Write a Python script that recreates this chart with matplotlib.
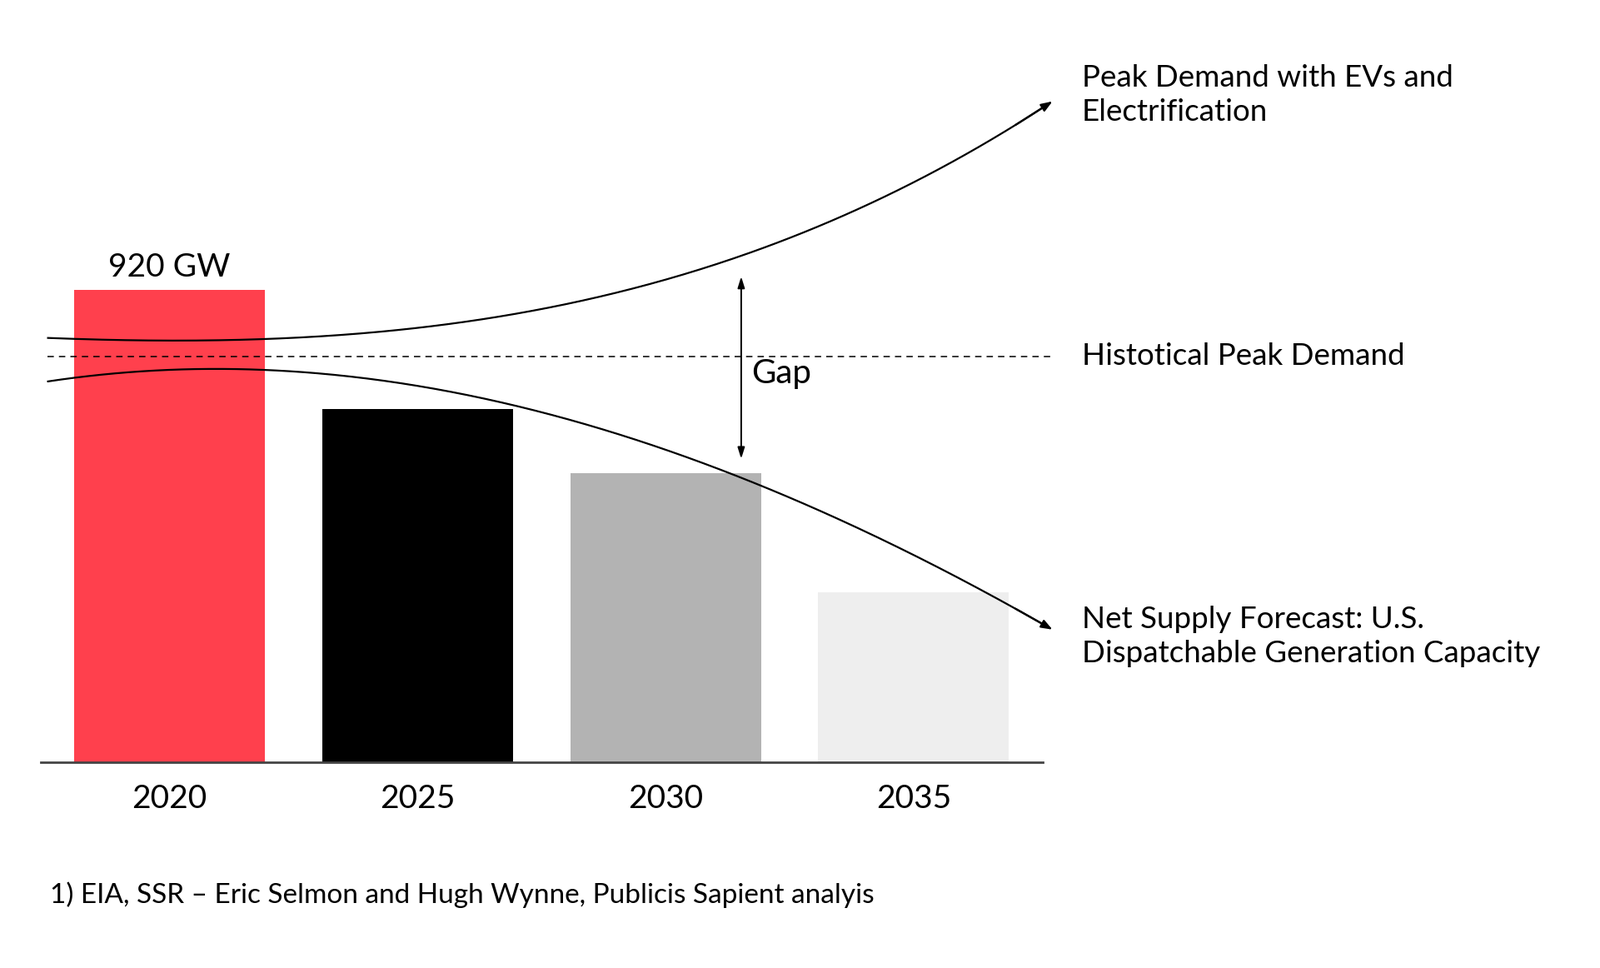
import numpy as np
import matplotlib
matplotlib.use("Agg")
import matplotlib.pyplot as plt

plt.rcParams['font.family'] = ['Lato', 'DejaVu Sans']

# ---- data ----
years = ["2020", "2025", "2030", "2035"]
capacity_gw = [920, 688, 563, 331]
bar_colors = ["#FF404D", "#000000", "#B3B3B3", "#EEEEEE"]
historical_peak_gw = 790

# schematic curves (x in bar-slot units, y in GW)
demand_x = [-0.49, 0.07, 0.38, 0.81, 1.20, 1.67, 1.76, 2.17, 2.31, 2.47, 2.86, 3.20, 3.56]
demand_y = [828, 818, 823, 839, 860, 901, 914, 961, 982, 1014, 1097, 1188, 1284]
supply_x = [-0.49, 0.13, 0.38, 0.81, 1.20, 1.39, 1.76, 2.17, 2.32, 2.53, 2.63, 3.09, 3.56]
supply_y = [742, 766, 763, 750, 711, 693, 649, 579, 555, 513, 485, 376, 261]
gap_x = 2.305
gap_range = [946, 591]

label_demand = "Peak Demand with EVs and\nElectrification"
label_hist = "Histotical Peak Demand"
label_supply = "Net Supply Forecast: U.S.\nDispatchable Generation Capacity"
footnote = "1) EIA, SSR \u2013 Eric Selmon and Hugh Wynne, Publicis Sapient analyis"

fig = plt.figure(figsize=(19.21, 11.62), dpi=100)
W, H = 1921, 1162
ax_left, ax_right, ax_bottom = 49, 1252, 915
px_per_gw = 567 / 920
ymax = 1400
ax_top = ax_bottom - ymax * px_per_gw
ax = fig.add_axes([ax_left / W, 1 - ax_bottom / H, (ax_right - ax_left) / W, (ax_bottom - ax_top) / H])
ax.set_xlim(-0.519, 3.521)
ax.set_ylim(0, ymax)

x = np.arange(len(years))
ax.bar(x, capacity_gw, width=0.769, color=bar_colors, zorder=1)

for s in ["top", "right", "left"]:
    ax.spines[s].set_visible(False)
ax.spines["bottom"].set_color("#444444")
ax.spines["bottom"].set_linewidth(2)
ax.set_yticks([])
ax.set_xticks(x)
ax.set_xticklabels(years, fontsize=28)
ax.tick_params(axis="x", length=0, pad=19)

ax.text(0, 946, f"{capacity_gw[0]} GW", ha="center", va="baseline", fontsize=28)

# dashed historical line
ax.plot([-0.492, 3.571], [historical_peak_gw] * 2, ls=(0, (5, 4)), color="black", lw=1.1,
        clip_on=False, zorder=3)

def draw_curve(xs, ys):
    c = np.polyfit(xs, ys, 3)
    xx = np.linspace(xs[0], xs[-1], 300)
    yy = np.polyval(c, xx)
    ax.plot(xx[:-3], yy[:-3], color="black", lw=1.6, clip_on=False, zorder=4)
    ax.annotate("", xy=(xx[-1], yy[-1]), xytext=(xx[-12], yy[-12]),
                arrowprops=dict(arrowstyle="-|>,head_length=0.8,head_width=0.3", color="black", lw=1.6,
                                shrinkA=0, shrinkB=0), annotation_clip=False, zorder=4)

draw_curve(demand_x, demand_y)
draw_curve(supply_x, supply_y)

ax.annotate("", xy=(gap_x, gap_range[0]), xytext=(gap_x, gap_range[1]),
            arrowprops=dict(arrowstyle="<|-|>,head_length=0.8,head_width=0.25", color="black", lw=1.4,
                            shrinkA=0, shrinkB=0), zorder=5)
ax.text(gap_x + 0.04, 738, "Gap", ha="left", va="baseline", fontsize=29)

lx = 1299 / W
fig.text(lx, 1 - 114 / H, label_demand, ha="left", va="center", fontsize=26.5, linespacing=1.31)
fig.text(lx, 1 - 428 / H, label_hist, ha="left", va="center", fontsize=26.5)
fig.text(lx, 1 - 764 / H, label_supply, ha="left", va="center", fontsize=26.5, linespacing=1.31)
fig.text(60 / W, 1 - 1074 / H, footnote, ha="left", va="center", fontsize=24)

fig.savefig("out.png", dpi=100, facecolor="white")
